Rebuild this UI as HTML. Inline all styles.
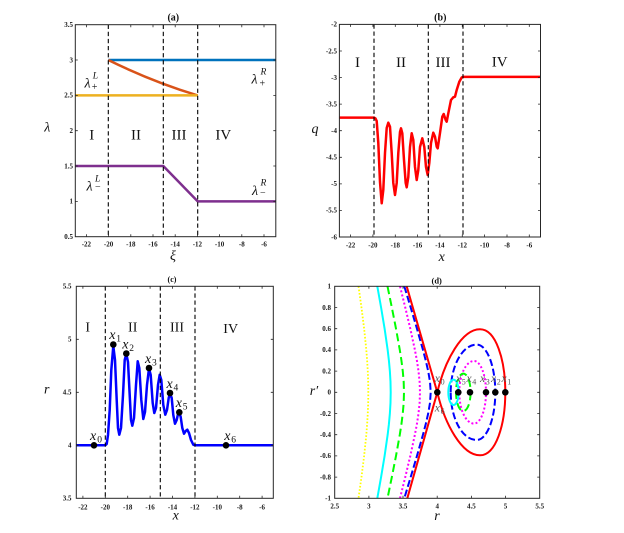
<!DOCTYPE html>
<html><head><meta charset="utf-8"><style>
html,body{margin:0;padding:0;background:#fff;}
svg{display:block;}
.tk{font-family:"Liberation Serif",serif;font-weight:bold;font-size:7px;fill:#1a1a1a;}
.rg{font-family:"Liberation Serif",serif;fill:#111;}
.mi{font-family:"Liberation Serif",serif;font-style:italic;fill:#111;}
.tt{font-family:"Liberation Serif",serif;font-weight:bold;fill:#111;}
</style></head><body>
<svg width="624" height="533" viewBox="0 0 624 533" xmlns="http://www.w3.org/2000/svg">
<rect width="624" height="533" fill="#fff"/>

<!-- ===== Panel (a) ===== -->
<line x1="108.3" y1="60" x2="275.8" y2="60" stroke="#0072BD" stroke-width="2.5"/>
<path d="M108.3,60 Q153,82 197.7,95.4" fill="none" stroke="#D95319" stroke-width="2.5"/>
<line x1="75.3" y1="95.4" x2="197.7" y2="95.4" stroke="#EDB120" stroke-width="2.5"/>
<polyline points="75.3,166 163.3,166 197.7,201.4 275.8,201.4" fill="none" stroke="#7E2F8E" stroke-width="2.5" stroke-linejoin="round"/>
<g stroke="#000" stroke-width="1.1" stroke-dasharray="4.3,2.8">
<line x1="108.3" y1="24.7" x2="108.3" y2="236.7"/>
<line x1="163.3" y1="24.7" x2="163.3" y2="236.7"/>
<line x1="197.7" y1="24.7" x2="197.7" y2="236.7"/>
</g>
<rect x="75.3" y="24.7" width="200.5" height="212" fill="none" stroke="#262626" stroke-width="1"/>
<path stroke="#262626" stroke-width="0.8" fill="none" d="
M86.4,236.7v-2.5M108.6,236.7v-2.5M130.8,236.7v-2.5M153,236.7v-2.5M175.2,236.7v-2.5M197.4,236.7v-2.5M219.6,236.7v-2.5M241.8,236.7v-2.5M264,236.7v-2.5
M86.4,24.7v2.5M108.6,24.7v2.5M130.8,24.7v2.5M153,24.7v2.5M175.2,24.7v2.5M197.4,24.7v2.5M219.6,24.7v2.5M241.8,24.7v2.5M264,24.7v2.5
M75.3,60h2.5M75.3,95.4h2.5M75.3,130.7h2.5M75.3,166h2.5M75.3,201.4h2.5
M275.8,60h-2.5M275.8,95.4h-2.5M275.8,130.7h-2.5M275.8,166h-2.5M275.8,201.4h-2.5"/>
<g class="tk" text-anchor="end">
<text x="73" y="27">3.5</text><text x="73" y="62.3">3</text><text x="73" y="97.7">2.5</text>
<text x="73" y="133">2</text><text x="73" y="168.3">1.5</text><text x="73" y="203.7">1</text><text x="73" y="239">0.5</text>
</g>
<g class="tk" text-anchor="middle">
<text x="86.4" y="246.6">-22</text><text x="108.6" y="246.6">-20</text><text x="130.8" y="246.6">-18</text>
<text x="153" y="246.6">-16</text><text x="175.2" y="246.6">-14</text><text x="197.4" y="246.6">-12</text>
<text x="219.6" y="246.6">-10</text><text x="241.8" y="246.6">-8</text><text x="264" y="246.6">-6</text>
</g>
<text class="tt" x="173.3" y="20.5" font-size="10" text-anchor="middle">(a)</text>
<text class="mi" x="47.3" y="131.5" font-size="14" text-anchor="middle">λ</text>
<text class="mi" x="173" y="260" font-size="14" text-anchor="middle">ξ</text>
<g class="rg" font-size="15" text-anchor="middle">
<text x="91.7" y="139.5">I</text><text x="136" y="139.5">II</text><text x="179" y="139.5">III</text><text x="223.3" y="139.5">IV</text>
</g>
<g class="mi">
<text x="84.5" y="87.5" font-size="14">λ</text><text x="92.7" y="78.5" font-size="9.5">L</text><text x="91.8" y="90" font-size="10" font-style="normal">+</text>
<text x="251.5" y="83.5" font-size="14">λ</text><text x="260.5" y="74.5" font-size="9.5">R</text><text x="259.5" y="86.5" font-size="10" font-style="normal">+</text>
<text x="86.5" y="190.5" font-size="14">λ</text><text x="95" y="181.5" font-size="9.5">L</text><text x="95" y="190" font-size="10" font-style="normal">−</text>
<text x="252" y="195" font-size="14">λ</text><text x="260.5" y="185.5" font-size="9.5">R</text><text x="260" y="196" font-size="10" font-style="normal">−</text>
</g>

<!-- ===== Panel (b) ===== -->
<polyline fill="none" stroke="#FF0000" stroke-width="2.5" stroke-linejoin="round" points="
339.4,117.6 374,117.6 375.5,118.5 376.7,121 378.3,143 380,182 381.7,203.3 383.3,190 385,153 386.7,128 388.3,122.7 390,126.7 391.7,153 393.3,183 395,195 396.7,183 398.3,153 400,132 401,128.3 402.3,133.3 404,160 405.7,183 406.7,187.3 408.3,177 410,147 411.7,133.3 413.3,140 415,167 416.7,180 418.3,170 420,147 422.3,138.3 424.3,147 426,167 427.7,175 429.3,163 431,143 433.3,132.7 435,136.7 436.7,146.7 437.7,148.3 440,133 442.3,116.7 443.7,114 445.7,120 446.7,121.7 448.3,113.3 451,100 453.3,97.3 455,96.7 456.7,90 459.3,81.7 461.7,77.5 463,76.9 540.5,76.9"/>
<g stroke="#000" stroke-width="1.1" stroke-dasharray="4.3,2.8">
<line x1="374" y1="24.4" x2="374" y2="237"/>
<line x1="428.3" y1="24.4" x2="428.3" y2="237"/>
<line x1="463" y1="24.4" x2="463" y2="237"/>
</g>
<rect x="339.4" y="24.4" width="201.1" height="212.6" fill="none" stroke="#262626" stroke-width="1"/>
<path stroke="#262626" stroke-width="0.8" fill="none" d="
M350.6,237v-2.5M372.9,237v-2.5M395.3,237v-2.5M417.6,237v-2.5M439.9,237v-2.5M462.3,237v-2.5M484.6,237v-2.5M507,237v-2.5M529.3,237v-2.5
M350.6,24.4v2.5M372.9,24.4v2.5M395.3,24.4v2.5M417.6,24.4v2.5M439.9,24.4v2.5M462.3,24.4v2.5M484.6,24.4v2.5M507,24.4v2.5M529.3,24.4v2.5
M339.4,51h2.5M339.4,77.6h2.5M339.4,104.1h2.5M339.4,130.7h2.5M339.4,157.3h2.5M339.4,183.9h2.5M339.4,210.4h2.5
M540.5,51h-2.5M540.5,77.6h-2.5M540.5,104.1h-2.5M540.5,130.7h-2.5M540.5,157.3h-2.5M540.5,183.9h-2.5M540.5,210.4h-2.5"/>
<g class="tk" text-anchor="end">
<text x="337" y="26.7">-2</text><text x="337" y="53.3">-2.5</text><text x="337" y="79.9">-3</text><text x="337" y="106.4">-3.5</text>
<text x="337" y="133">-4</text><text x="337" y="159.6">-4.5</text><text x="337" y="186.2">-5</text><text x="337" y="212.7">-5.5</text><text x="337" y="239.3">-6</text>
</g>
<g class="tk" text-anchor="middle">
<text x="350.6" y="247.3">-22</text><text x="372.9" y="247.3">-20</text><text x="395.3" y="247.3">-18</text>
<text x="417.6" y="247.3">-16</text><text x="439.9" y="247.3">-14</text><text x="462.3" y="247.3">-12</text>
<text x="484.6" y="247.3">-10</text><text x="507" y="247.3">-8</text><text x="529.3" y="247.3">-6</text>
</g>
<text class="tt" x="440.3" y="20.5" font-size="10" text-anchor="middle">(b)</text>
<text class="mi" x="315" y="133" font-size="14" text-anchor="middle">q</text>
<text class="mi" x="441.7" y="261" font-size="14" text-anchor="middle">x</text>
<g class="rg" font-size="15" text-anchor="middle">
<text x="357.5" y="67">I</text><text x="401" y="67">II</text><text x="443" y="67">III</text><text x="499.7" y="66.5">IV</text>
</g>

<!-- ===== Panel (c) ===== -->
<polyline fill="none" stroke="#0000FF" stroke-width="2.5" stroke-linejoin="round" points="
76.3,445.3 105.3,445.3 106.7,444 108,435 109.7,410 111.3,370 113.3,346 115,360 116.7,400 118,428 119.3,434.7 121,428 123,395 124.7,360 126.3,354 128,362 129.7,395 131,420 132.3,425.7 134,418 136,385 137.7,361.3 139.3,368 141.3,400 143.3,419 145,412 147,385 149,368.5 150.7,375 152.7,403 154.3,413 156,408 158,385 159.7,374.7 161.3,380 163.3,405 165.3,414.7 167,410 168.7,398 170,393.5 171.7,398 173.3,415 175,423.7 176.7,420 178,414 179.3,412.3 180.7,417 182.3,428 184,433.7 185.7,431 187.3,429.7 189,433 191,440 193.3,444.7 195,445.3 273.3,445.3"/>
<g stroke="#000" stroke-width="1.1" stroke-dasharray="4.3,2.8">
<line x1="105.3" y1="286.3" x2="105.3" y2="498.3"/>
<line x1="160.3" y1="286.3" x2="160.3" y2="498.3"/>
<line x1="195" y1="286.3" x2="195" y2="498.3"/>
</g>
<g fill="#000">
<circle cx="94" cy="445.3" r="3.3"/><circle cx="113.3" cy="344.5" r="3.3"/><circle cx="126.3" cy="353.5" r="3.3"/>
<circle cx="149" cy="368" r="3.3"/><circle cx="170" cy="393" r="3.3"/><circle cx="179.3" cy="412.3" r="3.3"/><circle cx="226" cy="445.3" r="3.3"/>
</g>
<g class="mi">
<text x="90" y="440" font-size="14">x</text><text x="97.3" y="442.5" font-size="9.5" font-style="normal">0</text>
<text x="109.3" y="339" font-size="14">x</text><text x="116.3" y="341.5" font-size="9.5" font-style="normal">1</text>
<text x="122.3" y="348.5" font-size="14">x</text><text x="129.3" y="351" font-size="9.5" font-style="normal">2</text>
<text x="145" y="363" font-size="14">x</text><text x="152" y="365.5" font-size="9.5" font-style="normal">3</text>
<text x="166.5" y="388" font-size="14">x</text><text x="173.5" y="390.5" font-size="9.5" font-style="normal">4</text>
<text x="175.7" y="407" font-size="14">x</text><text x="182.7" y="409.5" font-size="9.5" font-style="normal">5</text>
<text x="224.3" y="440" font-size="14">x</text><text x="231.3" y="442.5" font-size="9.5" font-style="normal">6</text>
</g>
<rect x="76.3" y="286.3" width="197" height="212" fill="none" stroke="#262626" stroke-width="1"/>
<path stroke="#262626" stroke-width="0.8" fill="none" d="
M82.9,498.3v-2.5M105.3,498.3v-2.5M127.7,498.3v-2.5M150.1,498.3v-2.5M172.5,498.3v-2.5M194.9,498.3v-2.5M217.3,498.3v-2.5M239.7,498.3v-2.5M262.1,498.3v-2.5
M82.9,286.3v2.5M105.3,286.3v2.5M127.7,286.3v2.5M150.1,286.3v2.5M172.5,286.3v2.5M194.9,286.3v2.5M217.3,286.3v2.5M239.7,286.3v2.5M262.1,286.3v2.5
M76.3,339.3h2.5M76.3,392.3h2.5M76.3,445.3h2.5
M273.3,339.3h-2.5M273.3,392.3h-2.5M273.3,445.3h-2.5"/>
<g class="tk" text-anchor="end">
<text x="71.5" y="288.6">5.5</text><text x="71.5" y="341.6">5</text><text x="71.5" y="394.6">4.5</text><text x="71.5" y="447.6">4</text><text x="71.5" y="500.6">3.5</text>
</g>
<g class="tk" text-anchor="middle">
<text x="82.9" y="509.6">-22</text><text x="105.3" y="509.6">-20</text><text x="127.7" y="509.6">-18</text>
<text x="150.1" y="509.6">-16</text><text x="172.5" y="509.6">-14</text><text x="194.9" y="509.6">-12</text>
<text x="217.3" y="509.6">-10</text><text x="239.7" y="509.6">-8</text><text x="262.1" y="509.6">-6</text>
</g>
<text class="tt" x="172" y="282" font-size="8" text-anchor="middle">(c)</text>
<text class="mi" x="46.7" y="393.5" font-size="14" text-anchor="middle">r</text>
<text class="mi" x="175.7" y="519.5" font-size="14" text-anchor="middle">x</text>
<g class="rg" font-size="14" text-anchor="middle">
<text x="87.7" y="331.7">I</text><text x="132.7" y="331.5">II</text><text x="177" y="331.5">III</text><text x="230.7" y="333">IV</text>
</g>

<!-- ===== Panel (d) ===== -->
<g fill="none" stroke-linejoin="round">
<polyline stroke="#FFFF00" stroke-width="1.8" stroke-dasharray="1.6,1.8" points="358.5,286.3 361.47,307.5 364.13,328.7 366.31,349.9 367.14,360.5 367.77,371.1 368.17,381.7 368.3,392.3 368.17,402.9 367.77,413.5 367.14,424.1 366.31,434.7 364.13,455.9 361.47,477.1 358.5,498.3"/>
<polyline stroke="#00FFFF" stroke-width="2" points="377.3,286.3 381.09,307.5 384.61,328.7 387.66,349.9 388.9,360.5 389.87,371.1 390.49,381.7 390.7,392.3 390.49,402.9 389.87,413.5 388.9,424.1 387.66,434.7 384.61,455.9 381.09,477.1 377.3,498.3"/>
<polyline stroke="#00FF00" stroke-width="2" stroke-dasharray="8,4" points="387.5,286.3 391.84,307.5 396,328.7 399.79,349.9 401.43,360.5 402.77,371.1 403.68,381.7 404,392.3 403.68,402.9 402.77,413.5 401.43,424.1 399.79,434.7 396,455.9 391.84,477.1 387.5,498.3"/>
<polyline stroke="#FF00FF" stroke-width="2" stroke-dasharray="2,2.2" points="400,286.3 405.26,307.5 410.3,328.7 414.9,349.9 416.89,360.5 418.51,371.1 419.61,381.7 420,392.3 419.61,402.9 418.51,413.5 416.89,424.1 414.9,434.7 410.3,455.9 405.26,477.1 400,498.3"/>
<polyline stroke="#0000FF" stroke-width="2" stroke-dasharray="7,3" points="404.3,286.3 410.69,307.5 416.97,328.7 422.97,349.9 425.74,360.5 428.18,371.1 430,381.7 430.7,392.3 430,402.9 428.18,413.5 425.74,424.1 422.97,434.7 416.97,455.9 410.69,477.1 404.3,498.3"/>
<polyline stroke="#FF0000" stroke-width="2" points="406.7,286.3 437.3,392.3 407.3,498.3"/>
<path stroke="#FF0000" stroke-width="2" d="M437.3,392.3 C445,360 462,329.3 480,329.3 C496,329.3 505.3,360 505.3,392.3 C505.3,424.6 496,455.3 480,455.3 C462,455.3 445,424.6 437.3,392.3"/>
<path stroke="#0000FF" stroke-width="2" stroke-dasharray="7,3" d="M450.7,392.3 C450.7,366 462.3,344.6 476.7,344.6 C487,344.6 495.3,366 495.3,392.3 C495.3,418.6 487,440 476.7,440 C462.3,440 450.7,418.6 450.7,392.3Z"/>
<path stroke="#FF00FF" stroke-width="2" stroke-dasharray="2,2.2" d="M459.3,392.3 C459.3,375 465.9,361 474,361 C480.6,361 486,375 486,392.3 C486,409.6 480.6,423.6 474,423.6 C465.9,423.6 459.3,409.6 459.3,392.3Z"/>
<ellipse cx="463.3" cy="392.3" rx="7.3" ry="18.7" stroke="#00FF00" stroke-width="2" stroke-dasharray="8,4"/>
<ellipse cx="453.5" cy="392.3" rx="5.2" ry="12.7" stroke="#00FFFF" stroke-width="2"/>
</g>
<g fill="#000">
<circle cx="437.3" cy="392.3" r="3.3"/><circle cx="458.3" cy="392.3" r="3.3"/><circle cx="470" cy="392.3" r="3.3"/>
<circle cx="486" cy="392.3" r="3.3"/><circle cx="495.3" cy="392.3" r="3.3"/><circle cx="505.3" cy="392.3" r="3.3"/>
</g>
<g class="mi" style="fill:#555">
<text x="434.8" y="382" font-size="11.5">x</text><text x="440.6" y="384.5" font-size="8" font-style="normal">0</text>
<text x="434.8" y="411.5" font-size="11.5">x</text><text x="440.6" y="414" font-size="8" font-style="normal">6</text>
<text x="456" y="382" font-size="11.5">x</text><text x="461.8" y="384.5" font-size="8" font-style="normal">5</text>
<text x="466.5" y="382" font-size="11.5">x</text><text x="472.3" y="384.5" font-size="8" font-style="normal">4</text>
<text x="480" y="382" font-size="11.5">x</text><text x="485.8" y="384.5" font-size="8" font-style="normal">3</text>
<text x="491" y="382" font-size="11.5">x</text><text x="496.8" y="384.5" font-size="8" font-style="normal">2</text>
<text x="501.5" y="382" font-size="11.5">x</text><text x="507.3" y="384.5" font-size="8" font-style="normal">1</text>
</g>
<rect x="334.7" y="286.3" width="205" height="212" fill="none" stroke="#262626" stroke-width="1"/>
<path stroke="#262626" stroke-width="0.8" fill="none" d="
M368.9,498.3v-2.5M403,498.3v-2.5M437.2,498.3v-2.5M471.4,498.3v-2.5M505.5,498.3v-2.5
M368.9,286.3v2.5M403,286.3v2.5M437.2,286.3v2.5M471.4,286.3v2.5M505.5,286.3v2.5
M334.7,307.5h2.5M334.7,328.7h2.5M334.7,349.9h2.5M334.7,371.1h2.5M334.7,392.3h2.5M334.7,413.5h2.5M334.7,434.7h2.5M334.7,455.9h2.5M334.7,477.1h2.5
M539.7,307.5h-2.5M539.7,328.7h-2.5M539.7,349.9h-2.5M539.7,371.1h-2.5M539.7,392.3h-2.5M539.7,413.5h-2.5M539.7,434.7h-2.5M539.7,455.9h-2.5M539.7,477.1h-2.5"/>
<g class="tk" text-anchor="end">
<text x="331" y="288.6">1</text><text x="331" y="309.8">0.8</text><text x="331" y="331">0.6</text><text x="331" y="352.2">0.4</text>
<text x="331" y="373.4">0.2</text><text x="331" y="394.6">0</text><text x="331" y="415.8">-0.2</text><text x="331" y="437">-0.4</text>
<text x="331" y="458.2">-0.6</text><text x="331" y="479.4">-0.8</text><text x="331" y="500.6">-1</text>
</g>
<g class="tk" text-anchor="middle">
<text x="334.7" y="508.5">2.5</text><text x="368.9" y="508.5">3</text><text x="403" y="508.5">3.5</text><text x="437.2" y="508.5">4</text>
<text x="471.4" y="508.5">4.5</text><text x="505.5" y="508.5">5</text><text x="539.7" y="508.5">5.5</text>
</g>
<text class="tt" x="436.7" y="283.5" font-size="8.5" text-anchor="middle">(d)</text>
<text class="mi" x="314" y="395" font-size="14" text-anchor="middle">r′</text>
<text class="mi" x="437" y="520" font-size="14" text-anchor="middle">r</text>
</svg>
</body></html>
